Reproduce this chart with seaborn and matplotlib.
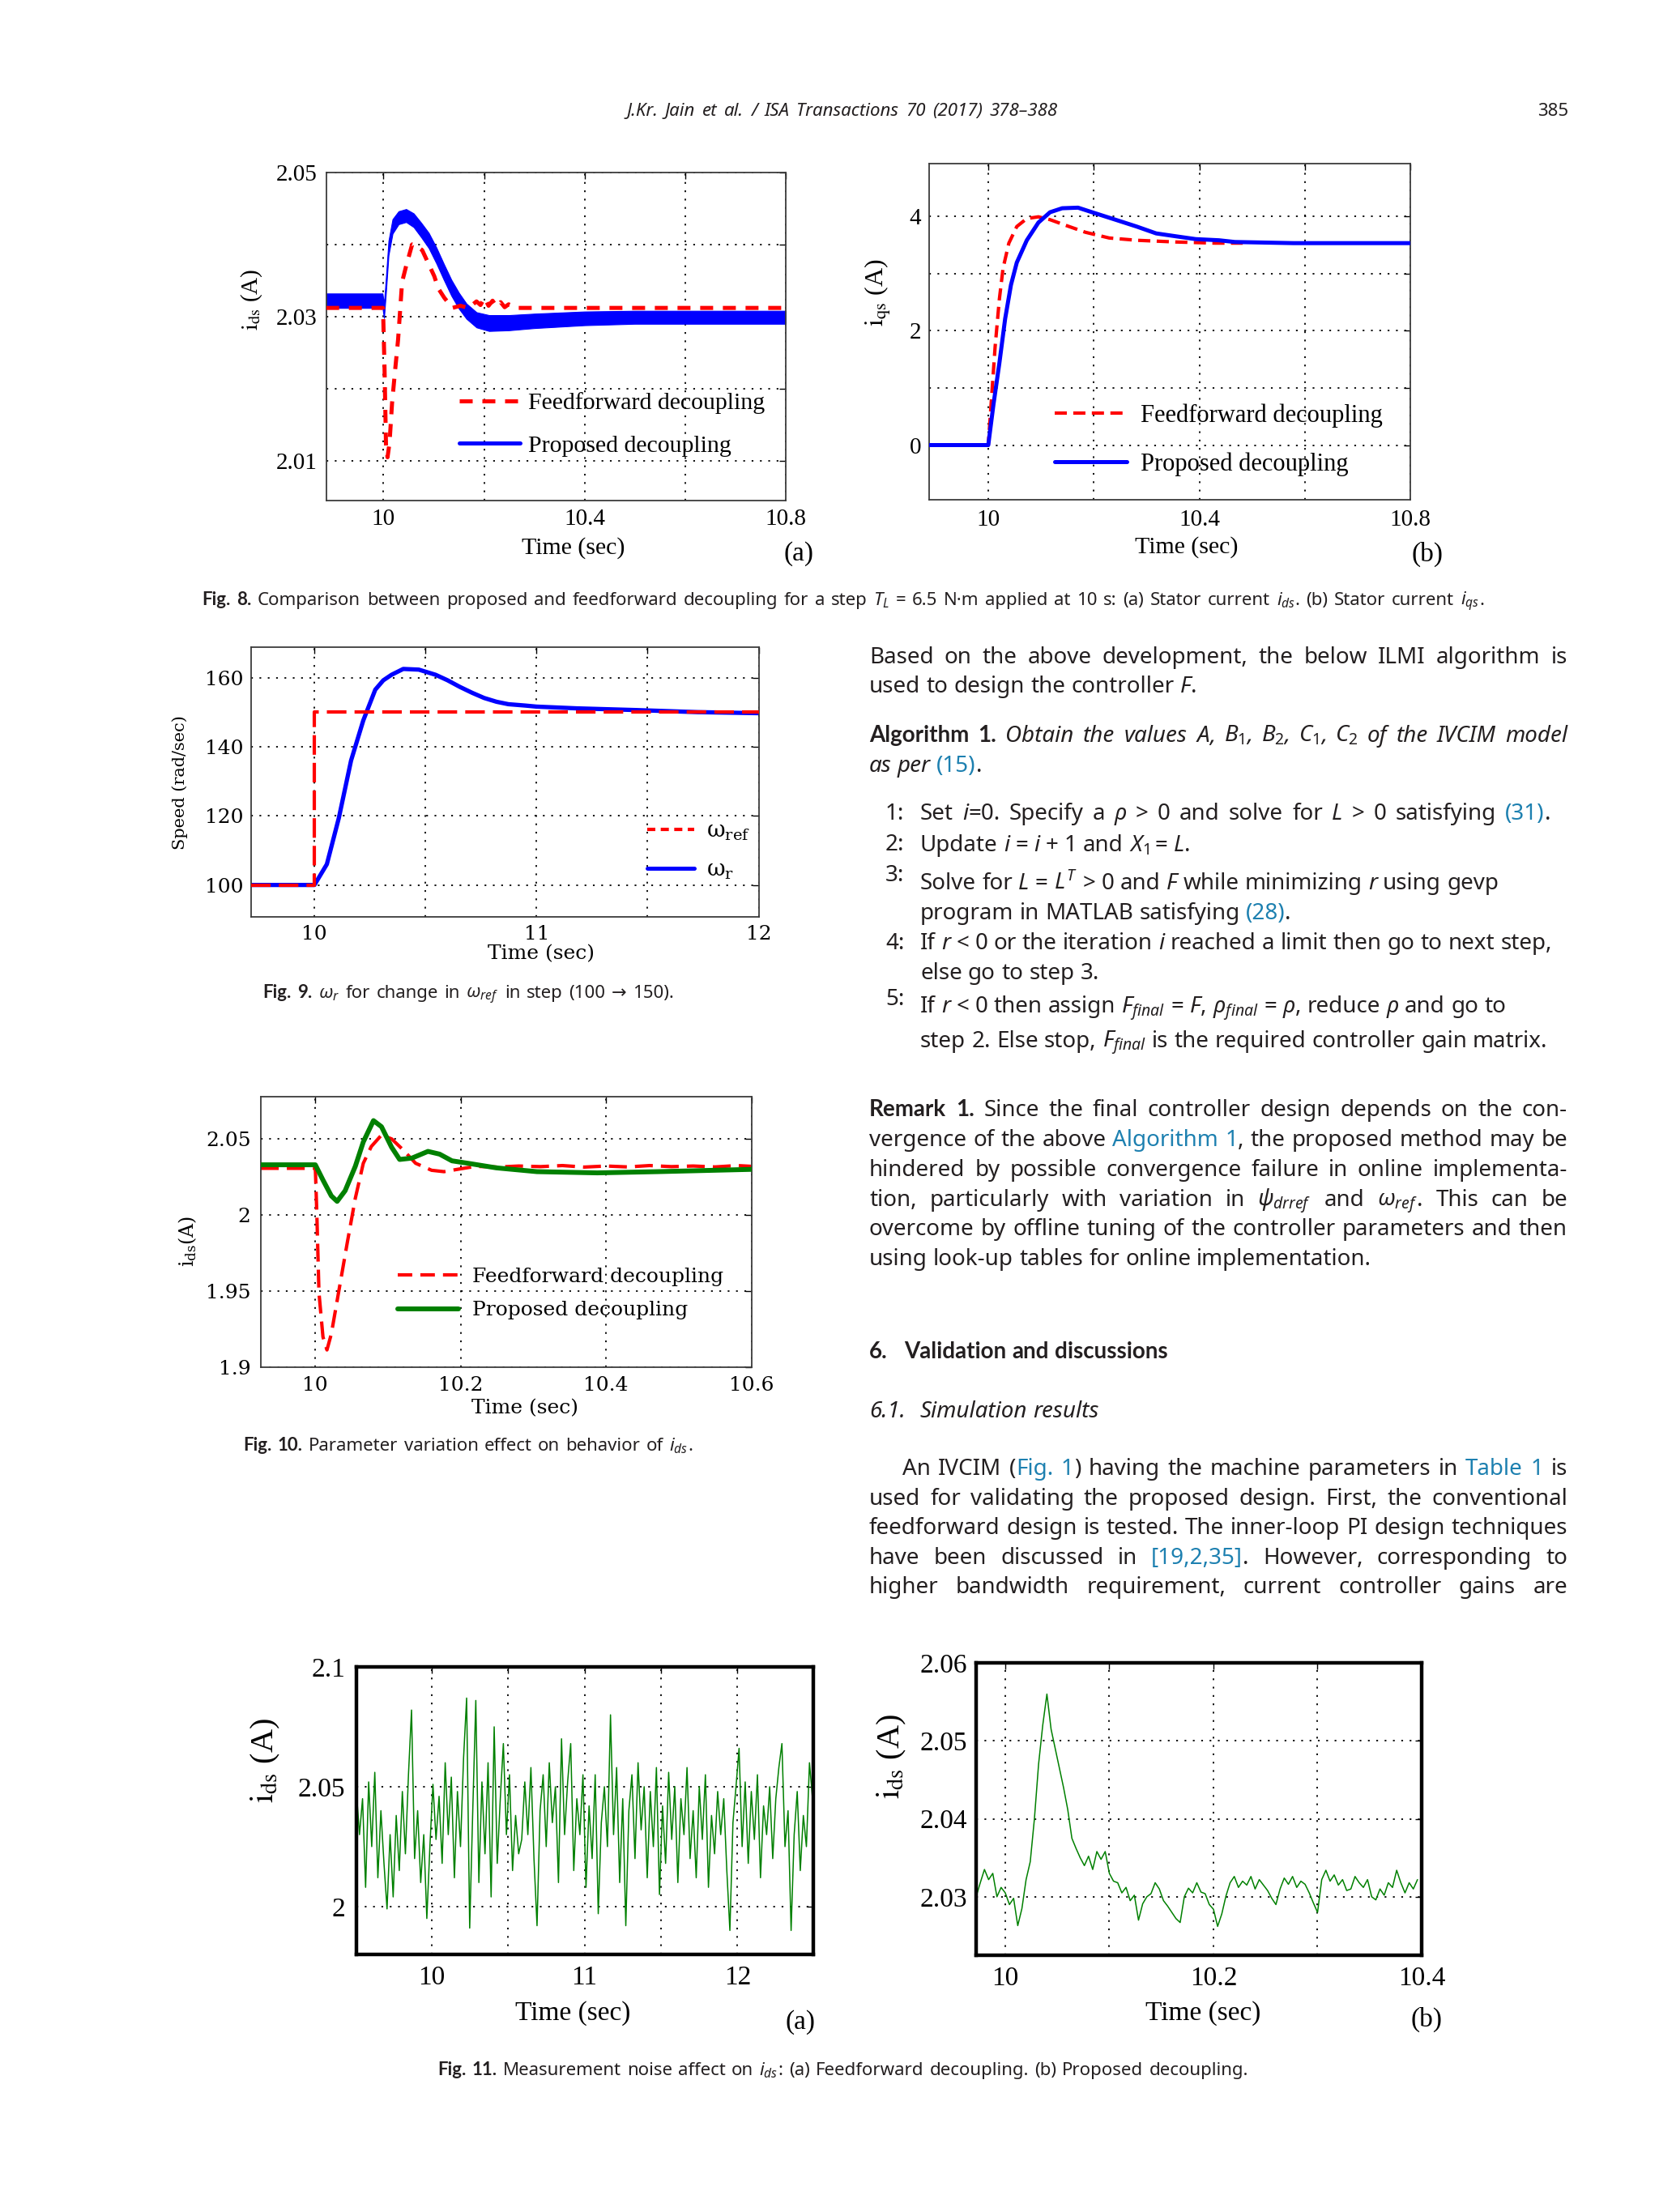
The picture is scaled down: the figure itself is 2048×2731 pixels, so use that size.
import seaborn as sns
import matplotlib.pyplot as plt
from matplotlib.lines import Line2D
from matplotlib.font_manager import FontProperties

W, H = 2048, 2731

# ---- Fig. 8(a): i_ds for a load step ----
t8a_ff = [9.886, 9.999, 10.002, 10.005, 10.008, 10.012, 10.017, 10.023, 10.029, 10.037, 10.045,
          10.057, 10.066, 10.077, 10.089, 10.101, 10.109, 10.121, 10.137, 10.153, 10.169, 10.185,
          10.193, 10.201, 10.209, 10.217, 10.225, 10.233, 10.241, 10.249, 10.265, 10.8]
ids8a_ff = [2.0312, 2.0312, 2.0230, 2.0120, 2.0105, 2.0125, 2.0180, 2.0225, 2.0268, 2.0348, 2.0370,
            2.0400, 2.0398, 2.0392, 2.0374, 2.0356, 2.0339, 2.0326, 2.0312, 2.0315, 2.0312, 2.0321,
            2.0316, 2.0326, 2.0315, 2.0322, 2.0314, 2.0320, 2.0313, 2.0317, 2.0312, 2.0312]
t8a_pd = [9.886, 9.998, 10.001, 10.005, 10.010, 10.018, 10.03, 10.045, 10.06, 10.075, 10.09, 10.105,
          10.12, 10.135, 10.15, 10.165, 10.185, 10.21, 10.25, 10.3, 10.4, 10.5, 10.65, 10.8]
ids8a_pd_lo = [2.0312, 2.0312, 2.0298, 2.0335, 2.0385, 2.0415, 2.0428, 2.0431, 2.0424, 2.0410, 2.0395,
               2.0374, 2.0351, 2.0329, 2.0311, 2.0297, 2.0285, 2.0280, 2.0281, 2.0284, 2.0288, 2.0290,
               2.0290, 2.0290]
ids8a_pd_hi = [2.0332, 2.0332, 2.0318, 2.0355, 2.0405, 2.0435, 2.0446, 2.0449, 2.0443, 2.0430, 2.0416,
               2.0396, 2.0373, 2.0351, 2.0333, 2.0318, 2.0306, 2.0302, 2.0302, 2.0304, 2.0307, 2.0308,
               2.0308, 2.0308]

# ---- Fig. 8(b): i_qs ----
t8b_ff = [9.888, 10.0, 10.0045, 10.013, 10.021, 10.028, 10.039, 10.054, 10.073, 10.095, 10.117,
          10.147, 10.184, 10.229, 10.281, 10.355, 10.43, 10.482]
iqs8b_ff = [0, 0, 0.6, 1.72, 2.55, 3.09, 3.53, 3.82, 3.96, 3.99, 3.94, 3.84, 3.72, 3.62, 3.58, 3.55,
            3.53, 3.53]
t8b_pd = [9.888, 10.0, 10.0097, 10.021, 10.032, 10.043, 10.054, 10.073, 10.095, 10.117, 10.14, 10.17,
          10.2, 10.244, 10.281, 10.318, 10.355, 10.393, 10.437, 10.467, 10.578, 10.8]
iqs8b_pd = [0, 0, 0.70, 1.43, 2.21, 2.80, 3.19, 3.58, 3.89, 4.07, 4.14, 4.15, 4.06, 3.93, 3.82, 3.70,
            3.65, 3.60, 3.58, 3.55, 3.53, 3.53]

# ---- Fig. 9: speed step 100 -> 150 ----
t9_ref = [9.715, 10.0, 10.0, 12.0]
w9_ref = [100, 100, 150, 150]
t9_r = [9.715, 10.0, 10.056, 10.11, 10.165, 10.22, 10.274, 10.31, 10.347, 10.40, 10.47, 10.546, 10.60,
        10.655, 10.71, 10.764, 10.82, 10.873, 10.95, 11.0, 11.18, 11.45, 11.726, 12.0]
w9_r = [100, 100, 106, 119.4, 136, 147.6, 156.5, 159.2, 160.8, 162.5, 162.3, 160.8, 159.2, 157.3,
        155.6, 154.1, 153.0, 152.3, 151.9, 151.6, 151.1, 150.6, 150.0, 149.7]

# ---- Fig. 10: parameter variation ----
t10_ff = [9.925, 10.0, 10.002, 10.005, 10.0105, 10.016, 10.022, 10.033, 10.044, 10.055, 10.066, 10.077,
          10.091, 10.105, 10.121, 10.138, 10.16, 10.177, 10.199, 10.221, 10.25, 10.28, 10.31, 10.34,
          10.37, 10.40, 10.43, 10.46, 10.49, 10.52, 10.55, 10.58, 10.6]
ids10_ff = [2.0307, 2.0307, 2.002, 1.949, 1.920, 1.9115, 1.922, 1.952, 1.982, 2.011, 2.034, 2.045,
            2.0525, 2.050, 2.0427, 2.034, 2.0294, 2.0285, 2.0303, 2.032, 2.0315, 2.0322, 2.0318,
            2.0325, 2.0315, 2.0322, 2.0316, 2.0325, 2.0318, 2.0322, 2.0316, 2.0325, 2.032]
t10_pd = [9.925, 10.0, 10.0105, 10.022, 10.03, 10.041, 10.055, 10.066, 10.08, 10.091, 10.105, 10.116,
          10.133, 10.155, 10.171, 10.188, 10.21, 10.249, 10.305, 10.388, 10.471, 10.6]
ids10_pd = [2.033, 2.033, 2.023, 2.0126, 2.009, 2.016, 2.032, 2.048, 2.062, 2.058, 2.0445, 2.0365,
            2.0374, 2.0418, 2.040, 2.0356, 2.034, 2.031, 2.0285, 2.0277, 2.0285, 2.030]

# ---- Fig. 11(a): measurement noise, feedforward ----
t11a = [9.51, 9.53, 9.55, 9.57, 9.59, 9.61, 9.63, 9.65, 9.67, 9.69, 9.71, 9.73, 9.75, 9.77, 9.79,
        9.81, 9.83, 9.85, 9.87, 9.89, 9.91, 9.93, 9.95, 9.97, 9.99, 10.01, 10.03, 10.05, 10.07, 10.09,
        10.11, 10.13, 10.15, 10.17, 10.19, 10.21, 10.23, 10.25, 10.27, 10.29, 10.31, 10.33, 10.35,
        10.37, 10.39, 10.41, 10.43, 10.45, 10.47, 10.49, 10.51, 10.53, 10.55, 10.57, 10.59, 10.61,
        10.63, 10.65, 10.67, 10.69, 10.71, 10.73, 10.75, 10.77, 10.79, 10.81, 10.83, 10.85, 10.87,
        10.89, 10.91, 10.93, 10.95, 10.97, 10.99, 11.01, 11.03, 11.05, 11.07, 11.09, 11.11, 11.13,
        11.15, 11.17, 11.19, 11.21, 11.23, 11.25, 11.27, 11.29, 11.31, 11.33, 11.35, 11.37, 11.39,
        11.41, 11.43, 11.45, 11.47, 11.49, 11.51, 11.53, 11.55, 11.57, 11.59, 11.61, 11.63, 11.65,
        11.67, 11.69, 11.71, 11.73, 11.75, 11.77, 11.79, 11.81, 11.83, 11.85, 11.87, 11.89, 11.91,
        11.93, 11.95, 11.97, 11.99, 12.01, 12.03, 12.05, 12.07, 12.09, 12.11, 12.13, 12.15, 12.17,
        12.19, 12.21, 12.23, 12.25, 12.27, 12.29, 12.31, 12.33, 12.35, 12.37, 12.39, 12.41, 12.43,
        12.45, 12.47, 12.49]
ids11a = [2.048, 2.030, 2.045, 2.008, 2.052, 2.025, 2.056, 2.012, 2.040, 2.018,
          1.999, 2.030, 2.004, 2.038, 2.015, 2.048, 2.022, 2.055, 2.082, 2.020,
          2.040, 2.010, 2.030, 1.995, 2.025, 2.051, 2.028, 2.046, 2.018, 2.060,
          2.030, 2.054, 2.012, 2.048, 2.025, 2.062, 2.087, 1.991, 2.040, 2.086,
          2.010, 2.052, 2.022, 2.060, 2.004, 2.075, 2.018, 2.045, 2.068, 2.030,
          2.055, 2.015, 2.038, 2.022, 2.028, 2.052, 2.030, 2.058, 2.020, 1.992,
          2.040, 2.055, 2.025, 2.060, 2.035, 2.050, 2.010, 2.070, 2.030, 2.052,
          2.068, 2.015, 2.045, 2.030, 2.055, 2.008, 2.042, 2.020, 2.055, 1.997,
          2.035, 2.050, 2.025, 2.080, 2.030, 2.058, 2.010, 2.045, 1.992, 2.040,
          2.055, 2.020, 2.060, 2.032, 2.050, 2.012, 2.048, 2.025, 2.058, 2.005,
          2.042, 2.018, 2.056, 2.028, 2.050, 2.010, 2.045, 2.030, 2.058, 2.020,
          2.040, 2.012, 2.050, 2.028, 2.055, 2.008, 2.038, 2.022, 2.048, 2.030,
          2.045, 2.015, 1.990, 2.035, 2.050, 2.066, 2.025, 2.052, 2.018, 2.048,
          2.028, 2.055, 2.012, 2.042, 2.030, 2.050, 2.020, 2.045, 2.058, 2.068,
          2.025, 2.040, 1.990, 2.030, 2.048, 2.015, 2.038, 2.025, 2.060, 2.045]

# ---- Fig. 11(b): measurement noise, proposed ----
t11b = [9.972, 9.976, 9.980, 9.984, 9.988, 9.992, 9.996, 10.000, 10.004, 10.008, 10.012, 10.016,
        10.020, 10.024, 10.028, 10.032, 10.036, 10.040, 10.044, 10.048, 10.052, 10.056, 10.060,
        10.064, 10.068, 10.072, 10.076, 10.080, 10.084, 10.088, 10.092, 10.096, 10.100, 10.104,
        10.108, 10.112, 10.116, 10.120, 10.124, 10.128, 10.132, 10.136, 10.140, 10.144, 10.148,
        10.152, 10.156, 10.160, 10.164, 10.168, 10.172, 10.176, 10.180, 10.184, 10.188, 10.192,
        10.196, 10.200, 10.204, 10.208, 10.212, 10.216, 10.220, 10.224, 10.228, 10.232, 10.236,
        10.240, 10.244, 10.248, 10.252, 10.256, 10.260, 10.264, 10.268, 10.272, 10.276, 10.280,
        10.284, 10.288, 10.292, 10.296, 10.300, 10.304, 10.308, 10.312, 10.316, 10.320, 10.324,
        10.328, 10.332, 10.336, 10.340, 10.344, 10.348, 10.352, 10.356, 10.360, 10.364, 10.368,
        10.372, 10.376, 10.380, 10.384, 10.388, 10.392, 10.396]
ids11b = [2.0300, 2.0318, 2.0335, 2.0322, 2.0330, 2.0300, 2.0312, 2.0305, 2.0290, 2.0298, 2.0263,
          2.0285, 2.0322, 2.0345, 2.0400, 2.0470, 2.0520, 2.0560, 2.0515, 2.0490, 2.0465, 2.0440,
          2.0412, 2.0375, 2.0362, 2.0350, 2.0340, 2.0352, 2.0335, 2.0358, 2.0348, 2.0358, 2.0330,
          2.0320, 2.0318, 2.0305, 2.0312, 2.0295, 2.0302, 2.0270, 2.0291, 2.0300, 2.0304, 2.0318,
          2.0310, 2.0295, 2.0288, 2.0280, 2.0272, 2.0267, 2.0300, 2.0311, 2.0305, 2.0318, 2.0306,
          2.0304, 2.0290, 2.0284, 2.0262, 2.0278, 2.0301, 2.0318, 2.0326, 2.0312, 2.0320, 2.0315,
          2.0326, 2.0310, 2.0322, 2.0315, 2.0308, 2.0298, 2.0290, 2.0310, 2.0324, 2.0316, 2.0326,
          2.0312, 2.0320, 2.0316, 2.0305, 2.0292, 2.0280, 2.0322, 2.0334, 2.0320, 2.0328, 2.0315,
          2.0322, 2.0308, 2.0310, 2.0326, 2.0318, 2.0312, 2.0322, 2.0300, 2.0296, 2.0310, 2.0302,
          2.0318, 2.0312, 2.0334, 2.0318, 2.0305, 2.0318, 2.0310, 2.0322]

sns.set_style('white')
plt.rcParams.update({
    'font.family': ['Noto Sans', 'DejaVu Sans'],
    'mathtext.fontset': 'custom',
    'mathtext.rm': 'Noto Sans',
    'mathtext.it': 'Noto Sans:italic',
    'mathtext.bf': 'Noto Sans:bold',
    'text.color': 'k', 'axes.labelcolor': 'k',
    'xtick.color': 'k', 'ytick.color': 'k',
})

SERIF = ['Liberation Serif', 'DejaVu Serif']
WIDE = ['DejaVu Serif']
BODY = ['Noto Sans', 'DejaVu Sans']
BOLD = ['Lato', 'Roboto', 'DejaVu Sans']
INK = '#231f20'
LINK = '#1d80b0'
RED, BLUE, GREEN = '#ff0000', '#0000ff', '#008000'

fig = plt.figure(figsize=(W / 100, H / 100), dpi=100)


def px_axes(l, t, r, b):
    return fig.add_axes([l / W, 1 - b / H, (r - l) / W, (b - t) / H])


def frame(ax, xlim, ylim, xt, xtl, yt, ytl, fam, fs, xpad, ypad, slw=1.3, sc='#3c3c3c'):
    ax.set_xlim(xlim)
    ax.set_ylim(ylim)
    ax.set_xticks(xt)
    ax.set_xticklabels(xtl, fontfamily=fam, fontsize=fs)
    ax.set_yticks(yt)
    ax.set_yticklabels(ytl, fontfamily=fam, fontsize=fs)
    ax.tick_params(axis='x', direction='in', length=6, width=1, top=True, pad=xpad)
    ax.tick_params(axis='y', direction='in', length=6, width=1, right=True, pad=ypad)
    ax.grid(True, color='k', linestyle=(0, (1.2, 4.5)), linewidth=1.3)
    for sp in ax.spines.values():
        sp.set_visible(True)
        sp.set_linewidth(slw)
        sp.set_edgecolor(sc)


def labels(ax, xl, xpos, yl, ypos, fam, xfs, yfs, mfam):
    ax.set_xlabel(xl, fontfamily=fam, fontsize=xfs)
    ax.xaxis.set_label_coords(*xpos)
    ax.set_ylabel(yl, fontfamily=fam, fontsize=yfs, math_fontfamily=mfam)
    ax.yaxis.set_label_coords(*ypos)


def legend(ax, handles, names, fam, fs, mfam, anchor, hl, htp, ls):
    fp = FontProperties(family=fam, size=fs, math_fontfamily=mfam)
    ax.legend(handles, names, prop=fp, loc='upper left', bbox_to_anchor=anchor, frameon=False,
              handlelength=hl, handletextpad=htp, labelspacing=ls, borderpad=0, borderaxespad=0)


def line(ax, x, y, color, lw, ls='-', z=2):
    sns.lineplot(x=x, y=y, ax=ax, color=color, lw=lw, linestyle=ls, estimator=None, sort=False, zorder=z)


# ---------------- Fig. 8(a) ----------------
ax = px_axes(402.7, 212.7, 969.8, 618)
ax.fill_between(t8a_pd, ids8a_pd_lo, ids8a_pd_hi, color=BLUE, lw=0.8, zorder=2)
line(ax, t8a_ff, ids8a_ff, RED, 3.6, (0, (3.2, 2.4)), 3)
frame(ax, (9.886, 10.8), (2.0045, 2.05), [10, 10.2, 10.4, 10.6, 10.8], ['10', '', '10.4', '', '10.8'],
      [2.01, 2.02, 2.03, 2.04, 2.05], ['2.01', '', '2.03', '', '2.05'], SERIF, 21, 7, 8)
labels(ax, 'Time (sec)', (0.538, -0.112), '$\\mathrm{i_{ds}}$ (A)', (-0.135, 0.612), SERIF, 21.5, 21, 'stix')
legend(ax, [Line2D([], [], color=RED, lw=3.6, linestyle=(0, (3.2, 2.4))), Line2D([], [], color=BLUE, lw=3.6)],
       ['Feedforward decoupling', 'Proposed decoupling'], SERIF, 21.5, 'stix', (0.29, 0.33), 2.5, 0.35, 0.85)
fig.text(986 / W, 1 - 684 / H, '(a)', ha='center', va='center', fontfamily=SERIF, fontsize=24)

# ---------------- Fig. 8(b) ----------------
ax = px_axes(1147, 202, 1741.4, 616.6)
line(ax, t8b_ff, iqs8b_ff, RED, 3, (0, (3.6, 1.9)), 2)
line(ax, t8b_pd, iqs8b_pd, BLUE, 3.6, '-', 3)
frame(ax, (9.888, 10.8), (-0.95, 4.92), [10, 10.2, 10.4, 10.6, 10.8], ['10', '', '10.4', '', '10.8'],
      [0, 1, 2, 3, 4], ['0', '', '2', '', '4'], SERIF, 21, 9, 7)
labels(ax, 'Time (sec)', (0.535, -0.109), '$\\mathrm{i_{qs}}$ (A)', (-0.076, 0.616), SERIF, 21.5, 23, 'stix')
legend(ax, [Line2D([], [], color=RED, lw=3, linestyle=(0, (3.6, 1.9))), Line2D([], [], color=BLUE, lw=3.6)],
       ['Feedforward decoupling', 'Proposed decoupling'], SERIF, 22, 'stix', (0.261, 0.285), 2.9, 0.55, 1.0)
fig.text(1762 / W, 1 - 684 / H, '(b)', ha='center', va='center', fontfamily=SERIF, fontsize=24)

# ---------------- Fig. 9 ----------------
ax = px_axes(310, 799, 936.5, 1132.3)
line(ax, t9_r, w9_r, BLUE, 3.8, '-', 2)
line(ax, t9_ref, w9_ref, RED, 3, (0, (5.8, 2.4)), 3)
frame(ax, (9.715, 12), (90.7, 168.8), [10, 10.5, 11, 11.5, 12], ['10', '', '11', '', '12'],
      [100, 120, 140, 160], ['100', '120', '140', '160'], WIDE, 18, 7, 7)
labels(ax, 'Time (sec)', (0.571, -0.103), 'Speed (rad/sec)', (-0.125, 0.50), WIDE, 18, 15, 'dejavuserif')
legend(ax, [Line2D([], [], color=RED, lw=3, linestyle=(0, (2.4, 1.6))), Line2D([], [], color=BLUE, lw=3.6)],
       ['$\\mathrm{\\omega_{ref}}$', '$\\mathrm{\\omega_{r}}$'], WIDE, 20, 'dejavuserif', (0.78, 0.36), 2.1, 0.54, 0.75)

# ---------------- Fig. 10 ----------------
ax = px_axes(322, 1354, 927.5, 1688.3)
line(ax, t10_ff, ids10_ff, RED, 3, (0, (5.3, 2.4)), 2)
line(ax, t10_pd, ids10_pd, GREEN, 4.3, '-', 3)
frame(ax, (9.925, 10.6), (1.9, 2.0777), [10, 10.2, 10.4, 10.6], ['10', '10.2', '10.4', '10.6'],
      [1.9, 1.95, 2.0, 2.05], ['1.9', '1.95', '2', '2.05'], WIDE, 18, 8, 9)
labels(ax, 'Time (sec)', (0.538, -0.115), '$\\mathrm{i_{ds}}$(A)', (-0.127, 0.467), WIDE, 18, 17, 'dejavuserif')
legend(ax, [Line2D([], [], color=RED, lw=3, linestyle=(0, (4.3, 2.4))), Line2D([], [], color=GREEN, lw=4.3)],
       ['Feedforward decoupling', 'Proposed decoupling'], WIDE, 18, 'dejavuserif', (0.279, 0.37), 3.0, 0.68, 0.75)

# ---------------- Fig. 11(a) ----------------
ax = px_axes(440, 2058, 1004, 2413)
line(ax, t11a, ids11a, GREEN, 1.1, '-', 2)
frame(ax, (9.51, 12.495), (1.98, 2.1), [10, 10.5, 11, 11.5, 12], ['10', '', '11', '', '12'],
      [2.0, 2.05, 2.1], ['2', '2.05', '2.1'], SERIF, 24, 10, 10, slw=3.2, sc='k')
labels(ax, 'Time (sec)', (0.473, -0.161), '$\\mathrm{i_{ds}}$ (A)', (-0.163, 0.676), SERIF, 24, 29, 'stix')
fig.text(988 / W, 1 - 2497 / H, '(a)', ha='center', va='center', fontfamily=SERIF, fontsize=24)

# ---------------- Fig. 11(b) ----------------
ax = px_axes(1205, 2053, 1755, 2414)
line(ax, t11b, ids11b, GREEN, 1.1, '-', 2)
frame(ax, (9.972, 10.4), (2.0225, 2.06), [10, 10.1, 10.2, 10.3, 10.4], ['10', '', '10.2', '', '10.4'],
      [2.03, 2.04, 2.05, 2.06], ['2.03', '2.04', '2.05', '2.06'], SERIF, 24, 10, 8, slw=3.2, sc='k')
labels(ax, 'Time (sec)', (0.509, -0.155), '$\\mathrm{i_{ds}}$ (A)', (-0.153, 0.679), SERIF, 24, 29, 'stix')
fig.text(1761 / W, 1 - 2493 / H, '(b)', ha='center', va='center', fontfamily=SERIF, fontsize=24)

# ---------------- page text ----------------
STY = {'n': {}, 'i': {'style': 'italic'}, 'b': {'weight': 'bold', 'fontfamily': BOLD},
       'l': {'color': LINK}}


def put(y, x0, segs, size, x1=None):
    toks = []
    gap_before = False
    for txt, st in segs:
        for k, p in enumerate(txt.split(' ')):
            if k > 0:
                gap_before = True
            if p:
                toks.append((p, st, gap_before and len(toks) > 0))
                gap_before = False
    arts = []
    for p, st, _ in toks:
        kw = {'color': INK, 'fontfamily': BODY}
        kw.update(STY[st])
        arts.append(fig.text(0, 1 - y / H, p, fontsize=size, va='baseline', **kw))
    rend = fig.canvas.get_renderer()
    wid = [a.get_window_extent(rend).width for a in arts]
    n_gap = sum(1 for tk in toks if tk[2])
    gap = size * 100 / 72 * 0.26
    if x1 is not None and n_gap:
        gap = max((x1 - x0 - sum(wid)) / n_gap, size * 100 / 72 * 0.12)
    x = x0
    for a, w, tk in zip(arts, wid, toks):
        if tk[2]:
            x += gap
        a.set_x(x / W)
        x += w


BS = 20
CS = 16
L, R, IND = 1073, 1935, 1136

put(143, 773, [("J.Kr. Jain et al. / ISA Transactions 70 (2017) 378–388", 'i')], 16, 1306)
put(143, 1898, [("385", 'n')], 16, 1935)

put(747, 249, [("Fig. 8.", 'b'), (" Comparison between proposed and feedforward decoupling for a step ", 'n'),
               ("$T_L$", 'n'), (" = 6.5 N·m applied at 10 s: (a) Stator current ", 'n'), ("$i_{ds}$", 'n'),
               (". (b) Stator current ", 'n'), ("$i_{qs}$", 'n'), (".", 'n')], CS, 1832)
put(1232, 324, [("Fig. 9.", 'b'), (" $\\omega_r$ for change in $\\omega_{ref}$ in step (100 → 150).", 'n')], CS, 832)
put(1791, 300, [("Fig. 10.", 'b'), (" Parameter variation effect on behavior of ", 'n'), ("$i_{ds}$", 'n'),
                (".", 'n')], CS, 855)
put(2562, 540, [("Fig. 11.", 'b'), (" Measurement noise affect on ", 'n'), ("$i_{ds}$", 'n'),
                (": (a) Feedforward decoupling. (b) Proposed decoupling.", 'n')], CS, 1541)

put(819, L, [("Based on the above development, the below ILMI algorithm is", 'n')], BS, R)
put(855, L, [("used to design the controller ", 'n'), ("F", 'i'), (".", 'n')], BS)
put(916, L, [("Algorithm 1.", 'b'),
             (" Obtain the values $A$, $B_1$, $B_2$, $C_1$, $C_2$ of the IVCIM model", 'i')], BS, R)
put(953, L, [("as per ", 'i'), ("(15)", 'l'), (".", 'n')], BS)

for yy, num in [(1012, "1:"), (1050, "2:"), (1088, "3:"), (1172, "4:"), (1241, "5:")]:
    put(yy, 1093, [(num, 'n')], BS)
put(1012, IND, [("Set ", 'n'), ("i", 'i'), ("=0. Specify a ", 'n'), ("ρ", 'i'), (" > 0 and solve for ", 'n'),
                ("L", 'i'), (" > 0 satisfying ", 'n'), ("(31)", 'l'), (".", 'n')], BS, 1914)
put(1051, IND, [("Update ", 'n'), ("i", 'i'), (" = ", 'n'), ("i", 'i'), (" + 1 and ", 'n'), ("$X_1$", 'n'),
                (" = ", 'n'), ("L", 'i'), (".", 'n')], BS)
put(1098, IND, [("Solve for ", 'n'), ("L", 'i'), (" = ", 'n'), ("$L^T$", 'n'), (" > 0 and ", 'n'), ("F", 'i'),
                (" while minimizing ", 'n'), ("r", 'i'), (" using gevp", 'n')], BS)
put(1135, IND, [("program in MATLAB satisfying ", 'n'), ("(28)", 'l'), (".", 'n')], BS)
put(1172, IND, [("If ", 'n'), ("r", 'i'), (" < 0 or the iteration ", 'n'), ("i", 'i'),
                (" reached a limit then go to next step,", 'n')], BS)
put(1209, IND, [("else go to step 3.", 'n')], BS)
put(1250, IND, [("If ", 'n'), ("r", 'i'), (" < 0 then assign ", 'n'), ("$F_{final}$", 'n'), (" = ", 'n'),
                ("F", 'i'), (", ", 'n'), ("$\\rho_{final}$", 'n'), (" = ", 'n'), ("ρ", 'i'), (", reduce ", 'n'),
                ("ρ", 'i'), (" and go to", 'n')], BS)
put(1293, IND, [("step 2. Else stop, ", 'n'), ("$F_{final}$", 'n'),
                (" is the required controller gain matrix.", 'n')], BS)

put(1378, L, [("Remark 1.", 'b'), (" Since the final controller design depends on the con-", 'n')], BS, R)
put(1415, L, [("vergence of the above ", 'n'), ("Algorithm 1", 'l'), (", the proposed method may be", 'n')], BS, R)
put(1452, L, [("hindered by possible convergence failure in online implementa-", 'n')], BS, R)
put(1489, L, [("tion, particularly with variation in ", 'n'), ("$\\psi_{drref}$", 'n'), (" and ", 'n'),
              ("$\\omega_{ref}$", 'n'), (". This can be", 'n')], BS, R)
put(1525, L, [("overcome by offline tuning of the controller parameters and then", 'n')], BS, R)
put(1562, L, [("using look-up tables for online implementation.", 'n')], BS)

put(1677, L, [("6.", 'b')], 20)
put(1677, 1116, [("Validation and discussions", 'b')], 20)
put(1750, L, [("6.1.", 'i')], BS)
put(1750, 1135, [("Simulation results", 'i')], BS)

put(1821, 1114, [("An IVCIM (", 'n'), ("Fig. 1", 'l'), (") having the machine parameters in ", 'n'),
                 ("Table 1", 'l'), (" is", 'n')], BS, R)
put(1858, L, [("used for validating the proposed design. First, the conventional", 'n')], BS, R)
put(1894, L, [("feedforward design is tested. The inner-loop PI design techniques", 'n')], BS, R)
put(1931, L, [("have been discussed in ", 'n'), ("[19,2,35]", 'l'), (". However, corresponding to", 'n')], BS, R)
put(1967, L, [("higher bandwidth requirement, current controller gains are", 'n')], BS, R)

fig.savefig('out.png', dpi=100, facecolor='white')
